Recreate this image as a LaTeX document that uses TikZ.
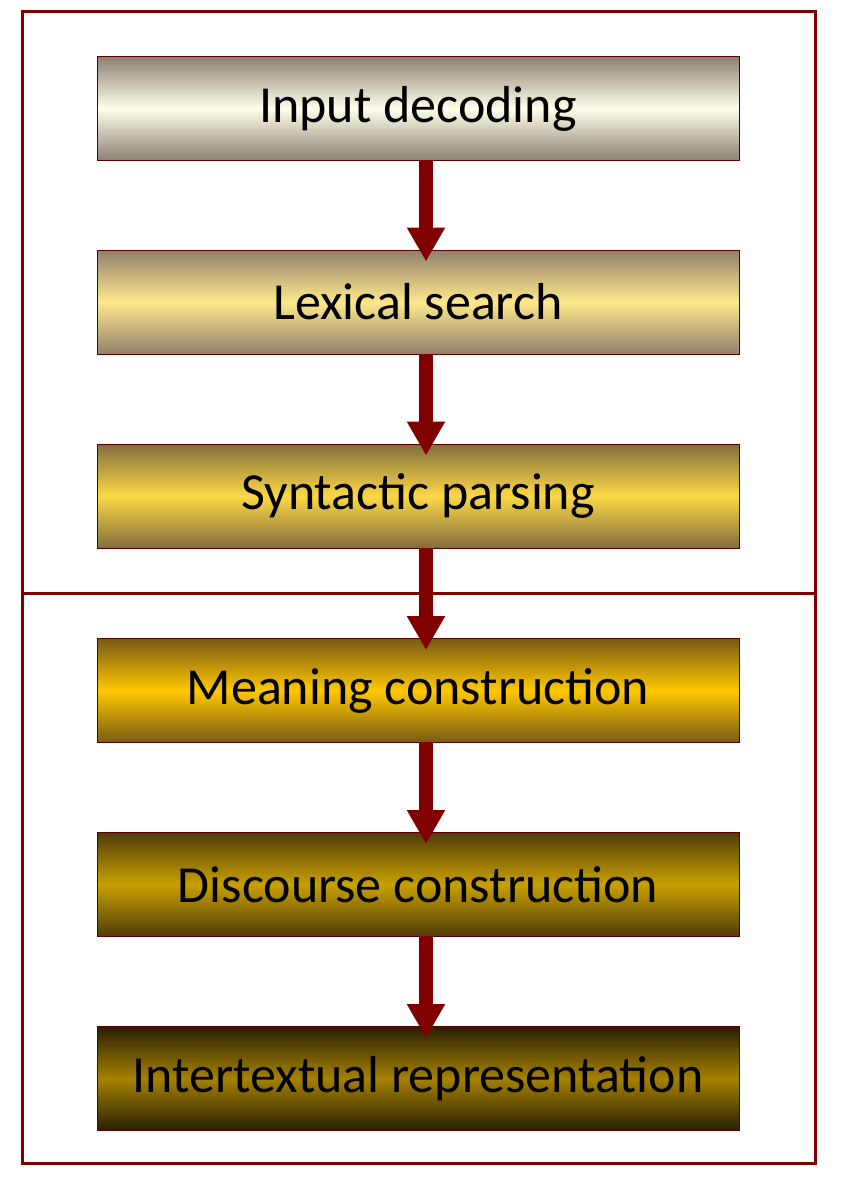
\documentclass[tikz,border=0pt]{standalone}
\usepackage{fontspec}
\setmainfont{Carlito}
\definecolor{frame}{HTML}{800000}
\tikzset{
  stage/.style={draw=frame!70!black, line width=1pt, minimum width=642pt, minimum height=104pt, inner sep=0pt, font=\fontsize{52}{58}\selectfont, text=black},
  flow/.style={draw=frame, line width=14pt, -{Triangle[width=36pt,length=34pt]}, shorten <=-1pt, shorten >=-12pt}
}
\usetikzlibrary{arrows.meta}
\begin{document}
\begin{tikzpicture}[x=1pt,y=-1pt]
\useasboundingbox (0,0) rectangle (842,1180);
\draw[frame, line width=3pt] (22,12) rectangle (815,1163);
\draw[frame, line width=3pt] (22,593) -- (815,593);
\node[stage, top color=gray!80!brown, bottom color=gray!80!brown, middle color=yellow!8!white] (a) at (418,108.5) {Input decoding};
\node[stage, top color=gray!70!brown, bottom color=gray!70!brown, middle color={rgb,255:red,253;green,232;blue,140}] (b) at (418,302) {Lexical search};
\node[stage, top color={rgb,255:red,130;green,110;blue,60}, bottom color={rgb,255:red,130;green,110;blue,60}, middle color={rgb,255:red,252;green,216;blue,70}] (c) at (418,496) {Syntactic parsing};
\node[stage, top color={rgb,255:red,120;green,90;blue,20}, bottom color={rgb,255:red,120;green,90;blue,20}, middle color={rgb,255:red,255;green,200;blue,0}] (d) at (418,690.5) {Meaning construction};
\node[stage, top color={rgb,255:red,80;green,60;blue,10}, bottom color={rgb,255:red,80;green,60;blue,10}, middle color={rgb,255:red,200;green,160;blue,0}] (e) at (418,884.5) {Discourse construction};
\node[stage, top color={rgb,255:red,40;green,30;blue,5}, bottom color={rgb,255:red,40;green,30;blue,5}, middle color={rgb,255:red,165;green,130;blue,0}] (f) at (418,1078.5) {Intertextual representation};
\foreach \u/\v in {a/b,b/c,c/d,d/e,e/f}
  \draw[flow] ([xshift=8pt]\u.south) -- ([xshift=8pt]\v.north);
\end{tikzpicture}
\end{document}
